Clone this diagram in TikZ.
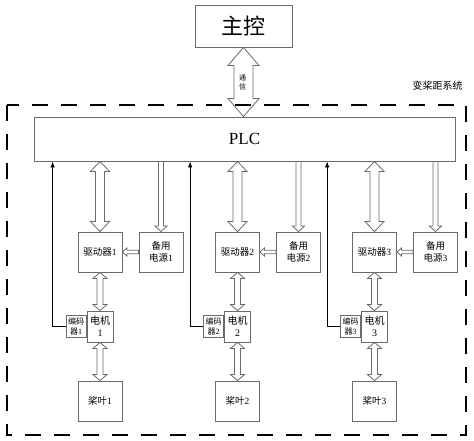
\documentclass[tikz,border=0pt]{standalone}
\usepackage{fontspec}
\setmainfont{Liberation Serif}
\newfontfamily\cjk{Noto Sans CJK SC}
\usetikzlibrary{calc,arrows.meta}
\definecolor{boxgray}{HTML}{6A6A6A}
\tikzset{
  box/.style={draw=boxgray,line width=0.9pt,inner sep=0pt,align=center,font=\fontsize{9.5}{12}\selectfont},
  hollow/.style={draw=boxgray,line width=0.8pt,fill=white,line join=miter},
  thinarrow/.style={line width=0.8pt,-{Latex[length=6pt,width=4.5pt]}},
  frame/.style={line width=2.6pt,dash pattern=on 16pt off 13pt}
}
% vertical hollow double arrow: top, bottom, shaft half width, head half width, head length
\newcommand{\vdouble}[5]{\draw[hollow] let \p1=(#1), \p2=(#2) in
  (\x1,\y1) -- (\x1-#4pt,\y1-#5pt) -- (\x1-#3pt,\y1-#5pt) -- (\x1-#3pt,\y2+#5pt) -- (\x1-#4pt,\y2+#5pt) -- (\x1,\y2)
  -- (\x1+#4pt,\y2+#5pt) -- (\x1+#3pt,\y2+#5pt) -- (\x1+#3pt,\y1-#5pt) -- (\x1+#4pt,\y1-#5pt) -- cycle;}
% vertical hollow single arrow pointing down
\newcommand{\vdown}[5]{\draw[hollow] let \p1=(#1), \p2=(#2) in
  (\x1-#3pt,\y1) -- (\x1-#3pt,\y2+#5pt) -- (\x1-#4pt,\y2+#5pt) -- (\x1,\y2)
  -- (\x1+#4pt,\y2+#5pt) -- (\x1+#3pt,\y2+#5pt) -- (\x1+#3pt,\y1) -- cycle;}
% horizontal hollow single arrow pointing left: from right point #1 to left point #2
\newcommand{\hleft}[5]{\draw[hollow] let \p1=(#1), \p2=(#2) in
  (\x1,\y1+#3pt) -- (\x2+#5pt,\y1+#3pt) -- (\x2+#5pt,\y1+#4pt) -- (\x2,\y1)
  -- (\x2+#5pt,\y1-#4pt) -- (\x2+#5pt,\y1-#3pt) -- (\x1,\y1-#3pt) -- cycle;}
\begin{document}
\begin{tikzpicture}[x=1pt,y=-1pt]
\useasboundingbox (0,0) rectangle (474,440);
% top
\node[box,minimum width=97pt,minimum height=42pt,font=\fontsize{22}{24}\selectfont\cjk] (main) at (243.5,26) {主控};
\node[font=\fontsize{10}{12}\selectfont\cjk] (sys) at (437.5,86) {变桨距系统};
\node[box,minimum width=421pt,minimum height=44pt,font=\fontsize{17}{20}\selectfont] (plc) at (244.5,139) {PLC};
\vdouble{main.south}{main.south |- plc.north}{9.5}{15.5}{18}
\node[inner sep=0pt,align=center,font=\fontsize{7}{9}\selectfont\cjk] (comm) at (242.5,82) {通\\信};
\draw[frame] (7,105) rectangle (466,435);
% three pitch branches
\foreach \i/\dx in {1/0,2/137.5,3/274.5}{
  \node[box,minimum width=44pt,minimum height=40pt] (drv\i) at (100+\dx,252) {{\cjk 驱动器}\i};
  \node[box,minimum width=44pt,minimum height=40pt] (pwr\i) at (161+\dx,252) {{\cjk 备用}\\{\cjk 电源}\i};
  \node[box,minimum width=26pt,minimum height=31pt,font=\fontsize{10}{12}\selectfont] (mot\i) at (100+\dx,326.5) {{\cjk 电机}\\\i};
  \node[box,minimum width=20pt,minimum height=22pt,anchor=east,font=\fontsize{8}{9.5}\selectfont] (enc\i) at (mot\i.west) {{\cjk 编码}\\{\cjk 器}\i};
  \node[box,minimum width=44pt,minimum height=40pt] (bld\i) at (100+\dx,401) {{\cjk 桨叶}\i};
  % connectors
  \vdouble{drv\i.north |- plc.south}{drv\i.north}{4.5}{9.5}{10}
  \vdown{pwr\i.north |- plc.south}{pwr\i.north}{2.5}{6}{5.5}
  \hleft{pwr\i.west}{drv\i.east}{1.8}{4}{4.5}
  \vdouble{drv\i.south}{mot\i.north}{3}{7}{6}
  \vdouble{mot\i.south}{bld\i.north}{3}{7}{6}
  \coordinate (t\i) at ($(enc\i.west)+(-13,0)$);
  \draw[thinarrow] (enc\i.west) -- (t\i) -- (t\i |- plc.south);
}
\end{tikzpicture}
\end{document}
